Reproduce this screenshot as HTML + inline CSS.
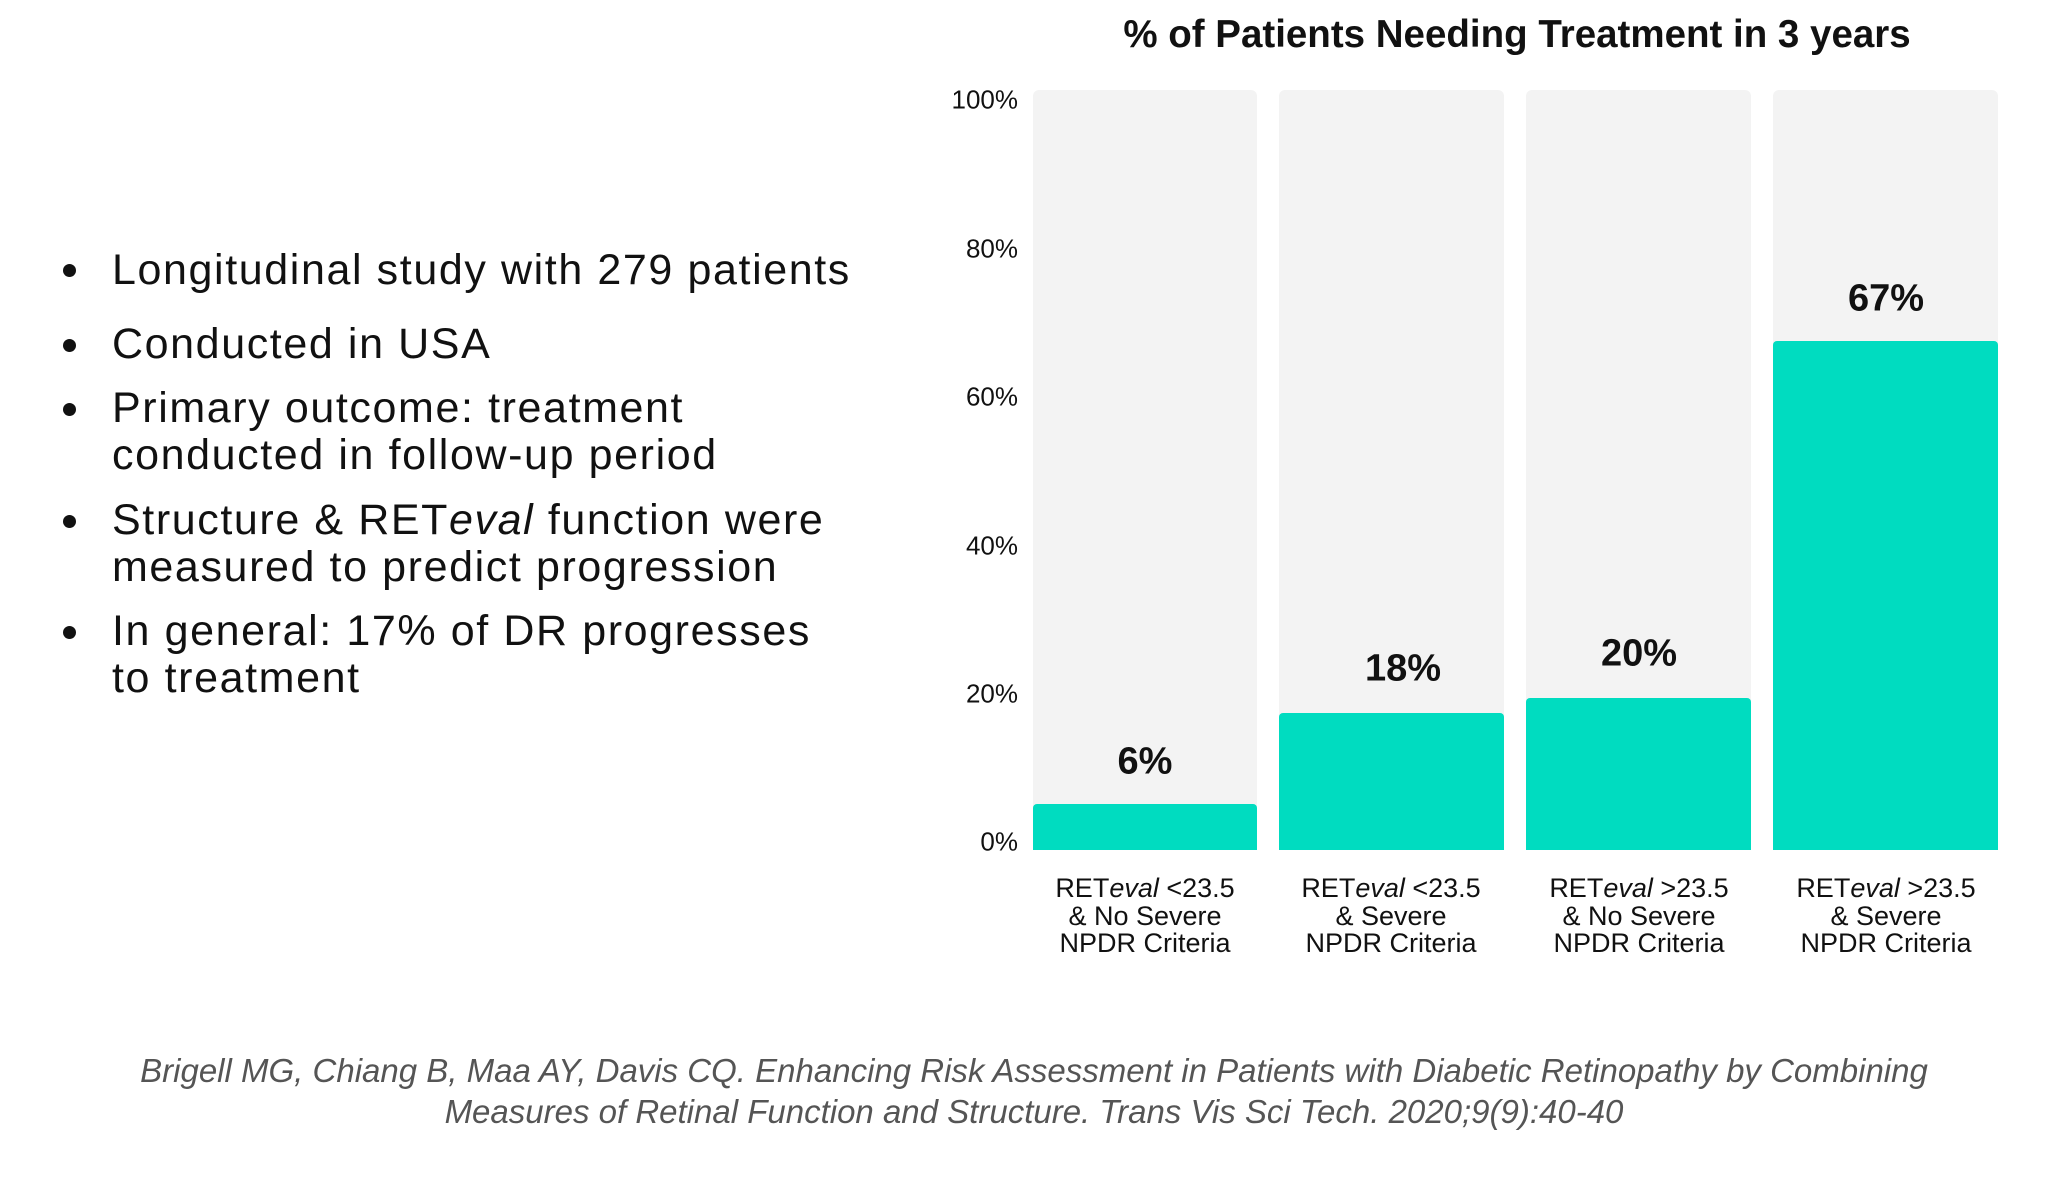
<!DOCTYPE html>
<html><head><meta charset="utf-8"><style>
body{margin:0;width:2048px;height:1189px;background:#fff;position:relative;overflow:hidden;font-family:"Liberation Sans",sans-serif;color:#111}
.a{position:absolute;white-space:nowrap}
.bg{position:absolute;background:#f3f3f3;border-radius:6px 6px 0 0;top:90px;height:760px}
.bar{position:absolute;background:#00dcc0;border-radius:4px 4px 0 0}
.t{position:absolute;right:1030px;font-size:26px;transform:translateY(-50%)}
.v{position:absolute;font-weight:bold;font-size:38px;transform:translate(-50%,-50%)}
.c{position:absolute;top:875px;font-size:27px;line-height:27.5px;text-align:center;width:260px;transform:translateX(-50%)}
.b{position:absolute;left:112px;font-size:43px;letter-spacing:1.6px;line-height:47px;white-space:nowrap}
.d{position:absolute;left:63px;width:13px;height:13px;border-radius:50%;background:#111}
</style></head><body>
<div class="a" style="left:1517px;top:35px;transform:translate(-50%,-50%);font-weight:bold;font-size:38.5px">% of Patients Needing Treatment in 3 years</div>

<div class="t" style="top:100px">100%</div>
<div class="t" style="top:249px">80%</div>
<div class="t" style="top:397px">60%</div>
<div class="t" style="top:546px">40%</div>
<div class="t" style="top:694px">20%</div>
<div class="t" style="top:842px">0%</div>

<div class="bg" style="left:1033px;width:224px"></div>
<div class="bg" style="left:1279px;width:225px"></div>
<div class="bg" style="left:1526px;width:225px"></div>
<div class="bg" style="left:1773px;width:225px"></div>

<div class="bar" style="left:1033px;width:224px;top:804px;height:46px"></div>
<div class="bar" style="left:1279px;width:225px;top:713px;height:137px"></div>
<div class="bar" style="left:1526px;width:225px;top:698px;height:152px"></div>
<div class="bar" style="left:1773px;width:225px;top:341px;height:509px"></div>

<div class="v" style="left:1145px;top:762px">6%</div>
<div class="v" style="left:1403px;top:669px">18%</div>
<div class="v" style="left:1639px;top:654px">20%</div>
<div class="v" style="left:1886px;top:299px">67%</div>

<div class="c" style="left:1145px">RET<i>eval</i> &lt;23.5<br>&amp; No Severe<br>NPDR Criteria</div>
<div class="c" style="left:1391px">RET<i>eval</i> &lt;23.5<br>&amp; Severe<br>NPDR Criteria</div>
<div class="c" style="left:1639px">RET<i>eval</i> &gt;23.5<br>&amp; No Severe<br>NPDR Criteria</div>
<div class="c" style="left:1886px">RET<i>eval</i> &gt;23.5<br>&amp; Severe<br>NPDR Criteria</div>

<div class="d" style="top:264px"></div><div class="b" style="top:247px">Longitudinal study with 279 patients</div>
<div class="d" style="top:339px"></div><div class="b" style="top:321px">Conducted in USA</div>
<div class="d" style="top:403px"></div><div class="b" style="top:385px">Primary outcome: treatment<br>conducted in follow-up period</div>
<div class="d" style="top:515px"></div><div class="b" style="top:497px">Structure &amp; RET<i>eval</i> function were<br>measured to predict progression</div>
<div class="d" style="top:626px"></div><div class="b" style="top:608px">In general: 17% of DR progresses<br>to treatment</div>

<div class="a" style="left:1034px;top:1050px;transform:translateX(-50%);font-style:italic;font-size:33px;line-height:41px;color:#555;text-align:center">Brigell MG, Chiang B, Maa AY, Davis CQ. Enhancing Risk Assessment in Patients with Diabetic Retinopathy by Combining<br>Measures of Retinal Function and Structure. Trans Vis Sci Tech. 2020;9(9):40-40</div>
</body></html>
